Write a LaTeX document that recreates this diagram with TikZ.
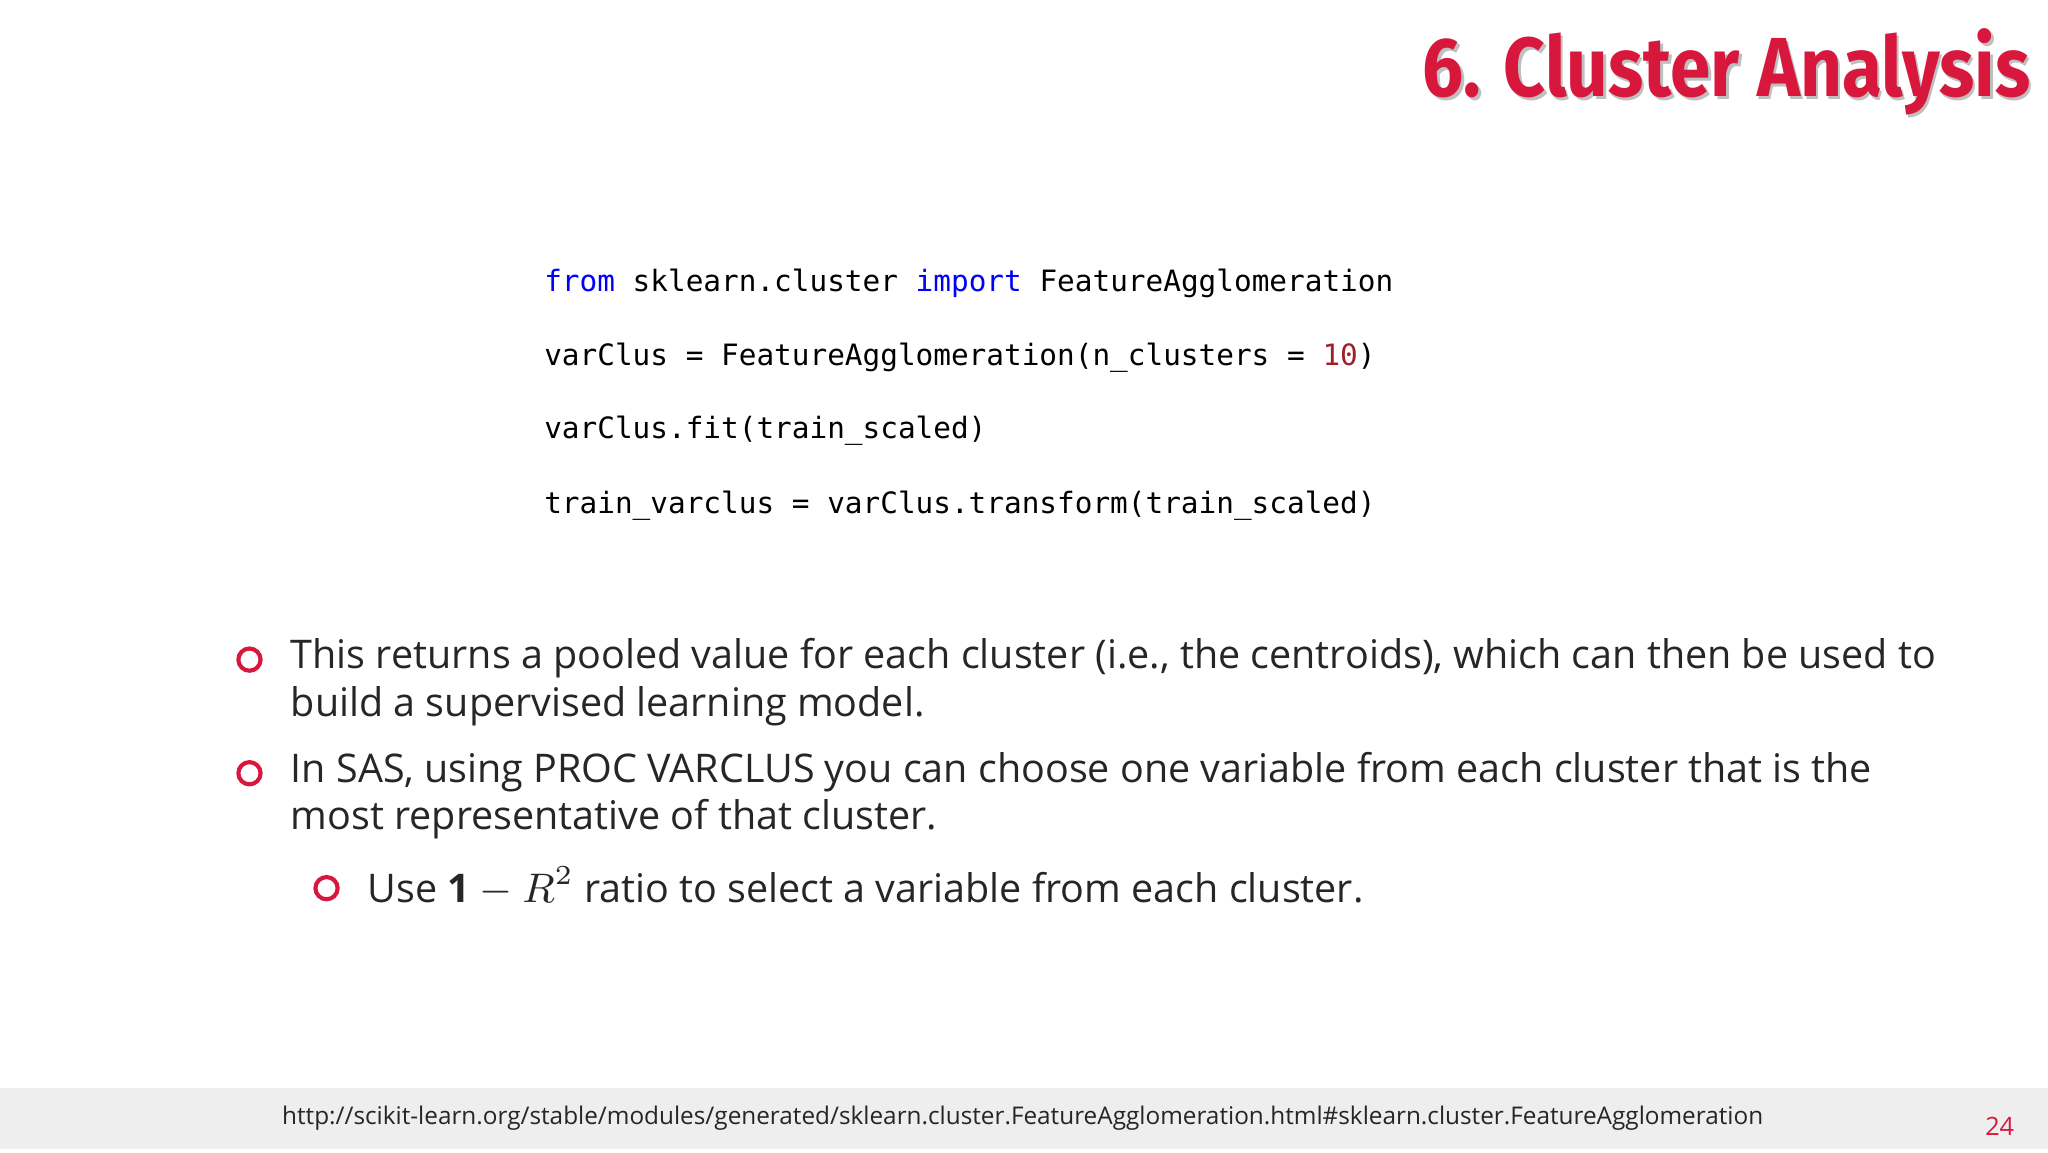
\documentclass[tikz,border=0pt]{standalone}
\usepackage{fontspec}
\setmainfont{Open Sans}
\newfontfamily\codefont{DejaVu Sans Mono}
\newfontfamily\titlefont{Fira Sans}
\usepackage{graphicx}
\definecolor{crim}{HTML}{D8173C}
\definecolor{kwblue}{HTML}{0000FF}
\definecolor{numred}{HTML}{A0202A}
\definecolor{band}{HTML}{EEEEEE}
\definecolor{txt}{HTML}{262626}
\tikzset{
  code/.style={anchor=west,inner sep=0pt,font=\codefont\fontsize{6.4pt}{7pt}\selectfont,text=black},
  bul/.style={circle,draw=crim,line width=0.9pt,minimum size=0.17cm,inner sep=0pt},
  btxt/.style={anchor=north west,inner sep=0pt,align=left,text=txt,font=\fontsize{8.6pt}{10pt}\selectfont},
}
\begin{document}
\begin{tikzpicture}[x=1cm,y=1cm]
\useasboundingbox (0,0) rectangle (15.68,8.82);
\fill[white] (0,0) rectangle (15.68,8.82);
% title
\node[anchor=east,inner sep=0pt,text=black!25] (tsh) at (15.57,8.245) {\resizebox{4.65cm}{0.52cm}{\titlefont\bfseries 6. Cluster Analysis}};
\node[anchor=east,inner sep=0pt,text=crim] (title) at (15.55,8.27) {\resizebox{4.65cm}{0.52cm}{\titlefont\bfseries 6. Cluster Analysis}};
% code
\node[code] (c1) at (4.16,6.65) {\textcolor{kwblue}{from} sklearn.cluster \textcolor{kwblue}{import} FeatureAgglomeration};
\node[code] (c2) at (4.16,6.08) {varClus = FeatureAgglomeration(n\_clusters = \textcolor{numred}{10})};
\node[code] (c3) at (4.16,5.52) {varClus.fit(train\_scaled)};
\node[code] (c4) at (4.16,4.95) {train\_varclus = varClus.transform(train\_scaled)};
% bullets
\node[bul] (b1) at (1.91,3.77) {};
\node[btxt] (t1) at (2.22,3.94) {This returns a pooled value for each cluster (i.e., the centroids), which can then be used to\\[0.4pt]build a supervised learning model.};
\node[bul] (b2) at (1.91,2.90) {};
\node[btxt] (t2) at (2.22,3.07) {In SAS, using PROC VARCLUS you can choose one variable from each cluster that is the\\[0.4pt]most representative of that cluster.};
\node[bul] (b3) at (2.50,2.02) {};
\node[btxt] (t3) at (2.81,2.19) {Use $\mathbf{1}-R^{2}$ ratio to select a variable from each cluster.};
% footer
\fill[band] (0,0.02) rectangle (15.68,0.49);
\node[inner sep=0pt,text=txt,font=\fontsize{5.3pt}{6pt}\selectfont] (url) at (7.83,0.26) {http://scikit-learn.org/stable/modules/generated/sklearn.cluster.FeatureAgglomeration.html\#sklearn.cluster.FeatureAgglomeration};
\node[inner sep=0pt,text=crim,font=\fontsize{5.5pt}{6pt}\selectfont] (pg) at (15.31,0.20) {24};
\end{tikzpicture}
\end{document}
